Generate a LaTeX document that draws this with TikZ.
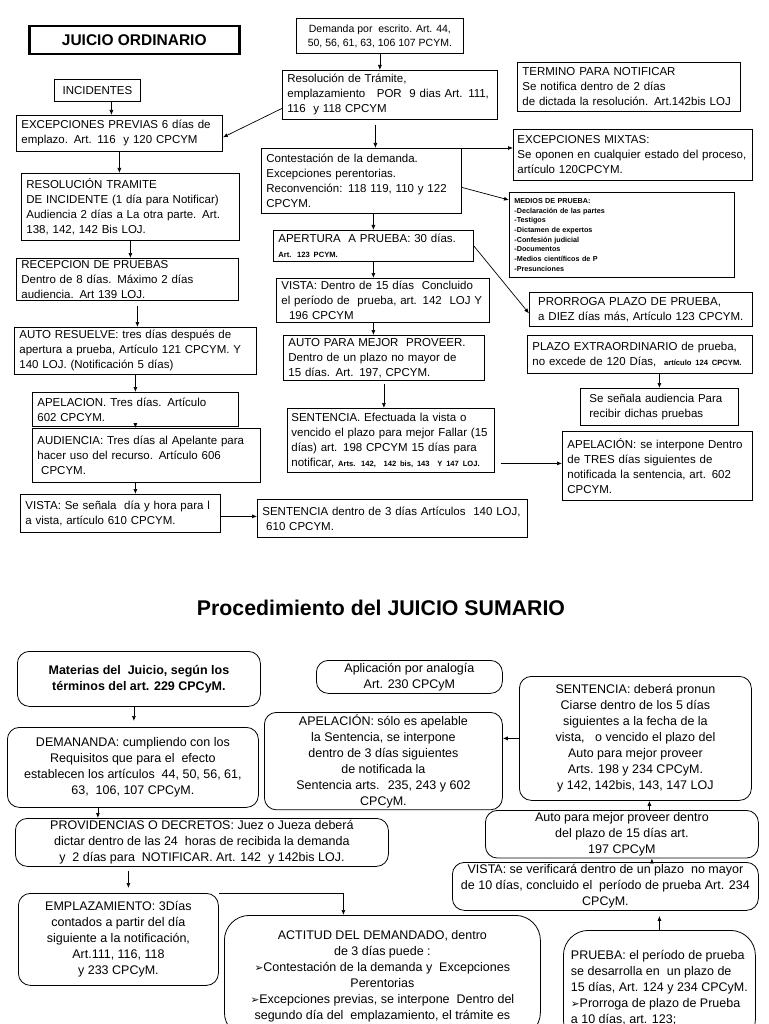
\documentclass[tikz,border=0pt]{standalone}
\usepackage{fontspec}
\setmainfont{Liberation Sans}
\newfontfamily\djv{DejaVu Sans}
\usetikzlibrary{arrows.meta}
\newcommand\fA{\fontsize{11.5}{15}\selectfont}
\newcommand\fB{\fontsize{12.5}{16}\selectfont}
\newcommand\fS{\fontsize{7.2}{9.7}\selectfont\bfseries}
\newcommand\fT{\fontsize{7.6}{10}\selectfont\bfseries}
\newcommand\arw{{\djv\fontsize{10.5}{16}\selectfont ➢}}
\hyphenpenalty=10000
\exhyphenpenalty=10000
\begin{document}
\begin{tikzpicture}[x=1pt,y=-1pt,
  box/.style={draw, line width=0.8pt, anchor=north west, inner xsep=5pt, inner ysep=2pt, align=left, font=\fA},
  cbox/.style={box, align=center},
  rbox/.style={draw, line width=0.8pt, rounded corners=12pt, anchor=north west, inner xsep=2pt, inner ysep=2pt, align=center, font=\fB},
  arr/.style={-{Latex[length=5pt,width=4pt]}, line width=0.7pt}
]
\fill[white] (0,0) rectangle (768,1024);
\useasboundingbox (0,0) rectangle (768,1024);
\clip (0,0) rectangle (768,1024);

% ---------- JUICIO ORDINARIO ----------
\node[box, line width=2.5pt, minimum width=210, minimum height=28, align=center, font=\fontsize{15.5}{17}\selectfont\bfseries] (jo) at (28,25) {JUICIO ORDINARIO};
\node[cbox, font=\fontsize{10.5}{14}\selectfont, minimum width=167, minimum height=35] (dem) at (296,18) {Demanda por \ escrito. Art. 44,\\ 50, 56, 61, 63, 106 107 PCYM.};
\node[box, text width=205pt, minimum height=49] (res) at (282,70) {Resolución de Trámite,\\ emplazamiento \ \ POR \ 9 dias Art. 111,\\ 116 \ y 118 CPCYM};
\node[box, text width=213pt, minimum height=49] (term) at (517,62) {TERMINO PARA NOTIFICAR\\ Se notifica dentro de 2 días\\ de dictada la resolución. Art.142bis LOJ};
\node[cbox, minimum width=86, minimum height=22] (inc) at (54,79) {INCIDENTES};
\node[box, text width=196pt, minimum height=36] (excp) at (16,115) {EXCEPCIONES PREVIAS 6 días de\\ emplazo. Art. 116 \ y 120 CPCYM};
\node[box, text width=231pt, inner xsep=4pt, minimum height=51] (excm) at (513,129) {EXCEPCIONES MIXTAS:\\ Se oponen en cualquier estado del proceso,\\ artículo 120CPCYM.};
\node[box, text width=190pt, minimum height=65] (cont) at (261,148) {Contestación de la demanda.\\ Excepciones perentorias.\\ Reconvención: 118 119, 110 y 122\\ CPCYM.};
\node[box, font=\fS, text width=215pt, minimum height=85] (med) at (509,192) {MEDIOS DE PRUEBA:\\ -Declaración de las partes\\ -Testigos\\ -Dictamen de expertos\\ -Confesión judicial\\ -Documentos\\ -Medios científicos de P\\ -Presunciones};
\node[box, text width=208pt, minimum height=67] (rest) at (21,173) {RESOLUCIÓN TRAMITE\\ DE INCIDENTE (1 día para Notificar)\\ Audiencia 2 días a La otra parte. Art.\\ 138, 142, 142 Bis LOJ.};
\node[box, text width=190pt, minimum height=31] (aper) at (273,230) {APERTURA \ A PRUEBA: 30 días.\\ {\fT Art. 123 PCYM.}};
\node[box, text width=212pt, minimum height=42] (recep) at (16,258) {RECEPCION DE PRUEBAS\\ Dentro de 8 días. Máximo 2 días\\ audiencia. Art 139 LOJ.};
\node[box, text width=203pt, minimum height=44] (vis1) at (276,278) {VISTA: Dentro de 15 días \ Concluido\\ el período de \ prueba, art. 142 \ LOJ Y\\ \ \ 196 CPCYM};
\node[box, text width=213pt, inner xsep=5pt, minimum height=34] (pro) at (529,292) {\ PRORROGA PLAZO DE PRUEBA,\\ \ a DIEZ días más, Artículo 123 CPCYM.};
\node[box, text width=232pt, minimum height=47] (autor) at (14,327) {AUTO RESUELVE: tres días después de\\ apertura a prueba, Artículo 121 CPCYM. Y\\ 140 LOJ. (Notificación 5 días)};
\node[box, text width=191pt, minimum height=45] (amp) at (283,335) {AUTO PARA MEJOR \ PROVEER.\\ Dentro de un plazo no mayor de\\ 15 días. Art. 197, CPCYM.};
\node[box, text width=215pt, minimum height=38] (plz) at (527,335) {PLAZO EXTRAORDINARIO de prueba,\\ no excede de 120 Días, \ {\fT artículo 124 CPCYM.}};
\node[box, text width=140pt, inner xsep=9pt, minimum height=37] (sen) at (580,388) {Se señala audiencia Para\\ recibir dichas pruebas};
\node[box, text width=196pt, minimum height=34] (ape1) at (32,392) {APELACION. Tres días. Artículo\\ 602 CPCYM.};
\node[box, text width=199pt, inner xsep=4pt, minimum height=64] (sent1) at (287,408) {SENTENCIA. Efectuada la vista o\\ vencido el plazo para mejor Fallar (15\\ días) art. 198 CPCYM 15 días para\\ notificar, {\fT Arts. 142, \ 142 bis, 143 \ Y 147 LOJ.}};
\node[box, text width=180pt, minimum height=69] (ape2) at (562,431) {APELACIÓN: se interpone Dentro\\ de TRES días siguientes de\\ notificada la sentencia, art. 602\\ CPCYM.};
\node[box, text width=218pt, minimum height=54] (aud) at (32,428) {AUDIENCIA: Tres días al Apelante para\\ hacer uso del recurso. Artículo 606\\ \ CPCYM.};
\node[box, text width=190pt, minimum height=38] (vis2) at (20,494) {VISTA: Se señala \ día y hora para l\\ a vista, artículo 610 CPCYM.};
\node[box, text width=260pt, minimum height=38] (sent2) at (257,499) {SENTENCIA dentro de 3 días Artículos \ 140 LOJ,\\ \ 610 CPCYM.};

\draw[arr] (dem.south) -- (dem.south |- res.north);
\draw[arr] ([yshift=-13.5pt]res.west) -- ([yshift=-4pt]excp.east);
\draw[arr] ([xshift=-14.5pt,yshift=-5pt]res.south) -- ([xshift=-14.5pt]res.south |- cont.north);
\draw[arr] (cont.north east) -- (cont.north east -| excm.west);
\draw[arr] ([yshift=-6.5pt]cont.east) -- ([yshift=-8pt]med.north west);
\draw[arr] (aper.north |- cont.south) -- (aper.north);
\draw[arr] ([xshift=14pt]inc.south) -- ([xshift=14pt]inc.south |- excp.north);
\draw[arr] (excp.south) -- (excp.south |- rest.north);
\draw[arr] (rest.south) -- (rest.south |- recep.north);
\draw[arr] ([xshift=10pt,yshift=-5pt]recep.south) -- ([xshift=10pt]recep.south |- autor.north);
\draw[arr] (autor.south) -- (autor.south |- ape1.north);
\draw[arr] (ape1.south) -- (ape1.south |- aud.north);
\draw[arr] (ape1.south |- aud.south) -- (ape1.south |- vis2.north);
\draw[arr] ([yshift=-3pt]vis2.east) -- ([yshift=-3pt]vis2.east -| sent2.west);
\draw[arr] (aper.south) -- (aper.south |- vis1.north);
\draw[arr] (aper.east) -- ([yshift=-4pt]pro.west);
\draw[arr] (aper.south |- vis1.south) -- (aper.south |- amp.north);
\draw[arr] ([yshift=-3pt]amp.south) -- (amp.south |- sent1.north);
\draw[arr] (sen.north |- plz.south) -- (sen.north);
\draw[arr] ([xshift=6pt,yshift=-23pt]sent1.east) -- ([yshift=-23pt]sent1.east -| ape2.west);

% ---------- JUICIO SUMARIO ----------
\node[font=\fontsize{21.3}{24}\selectfont\bfseries] (t2) at (381,608) {Procedimiento del JUICIO SUMARIO};
\node[rbox, font=\fB\bfseries, minimum width=243, minimum height=55] (mat) at (17,651) {Materias del \ Juicio, según los\\ términos del art. 229 CPCyM.};
\node[rbox, minimum width=186, minimum height=33] (apl) at (316,660) {Aplicación por analogía\\ Art. 230 CPCyM};
\node[rbox, minimum width=232, minimum height=124] (sentb) at (519,676) {SENTENCIA: deberá pronun\\ Ciarse dentro de los 5 días\\ siguientes a la fecha de la\\ vista, \ \ o vencido el plazo del\\ Auto para mejor proveer\\ Arts. 198 y 234 CPCyM.\\ y 142, 142bis, 143, 147 LOJ};
\node[rbox, minimum width=238, minimum height=90] (apelb) at (264,712) {APELACIÓN: sólo es apelable\\ la Sentencia, se interpone\\ dentro de 3 días siguientes\\ de notificada la\\ Sentencia arts. \ 235, 243 y 602\\ CPCyM.};
\node[rbox, minimum width=251, minimum height=80] (dmd) at (7,727) {DEMANANDA: cumpliendo con los\\ Requisitos que para el \ efecto\\ establecen los artículos \ 44, 50, 56, 61,\\ 63, \ 106, 107 CPCyM.};
\node[rbox, minimum width=373, minimum height=48] (prov) at (15,818) {PROVIDENCIAS O DECRETOS: Juez o Jueza deberá\\ dictar dentro de las 24 \ horas de recibida la demanda\\ y \ 2 días para \ NOTIFICAR. Art. 142 \ y 142bis LOJ.};
\node[rbox, minimum width=273, minimum height=46] (autob) at (485,810) {Auto para mejor proveer dentro\\ del plazo de 15 días art.\\ 197 CPCyM};
\node[rbox, minimum width=306, minimum height=48] (visb) at (452,862) {VISTA: se verificará dentro de un plazo \ no mayor\\ de 10 días, concluido el \ período de prueba Art. 234\\ CPCyM.};
\node[rbox, minimum width=200, minimum height=92] (empl) at (18,893) {EMPLAZAMIENTO: 3Días\\ contados a partir del día\\ siguiente a la notificación,\\ Art.111, 116, 118\\ y 233 CPCyM.};
\node[rbox, rounded corners=25pt, minimum width=316, minimum height=122] (act) at (224,915) {ACTITUD DEL DEMANDADO, dentro\\ de 3 días puede :\\ \arw Contestación de la demanda y \ Excepciones\\ Perentorias\\ \arw Excepciones previas, se interpone \ Dentro del\\ segundo día del \ emplazamiento, el trámite es};
\node[rbox, rounded corners=25pt, align=left, minimum width=192, minimum height=114] (pru) at (563,930) {PRUEBA: el período de prueba\\ se desarrolla en \ un plazo de\\ 15 días, Art. 124 y 234 CPCyM.\\ \arw Prorroga de plazo de Prueba\\ a 10 días, art. 123;};

\draw[arr] ([xshift=-5pt]mat.south) -- ([xshift=-5pt,yshift=6pt]mat.south |- dmd.north);
\draw[arr] ([xshift=-35pt]dmd.south) -- ([xshift=-35pt]dmd.south |- prov.north);
\draw[arr] ([xshift=10pt,yshift=-4pt]empl.north |- prov.south) -- ([xshift=10pt,yshift=5pt]empl.north);
\draw[arr] (empl.north east) -| ([xshift=-39pt]act.north);
\draw[arr] (sentb.west) -- (sentb.west -| apelb.east);
\draw[arr] ([xshift=14pt]sentb.south |- autob.north) -- ([xshift=14pt]sentb.south);
\draw[arr] ([xshift=30pt]autob.south |- visb.north) -- ([xshift=30pt]autob.south);
\draw[arr] (pru.north) -- ([yshift=-5pt]pru.north |- visb.south);
\end{tikzpicture}
\end{document}
